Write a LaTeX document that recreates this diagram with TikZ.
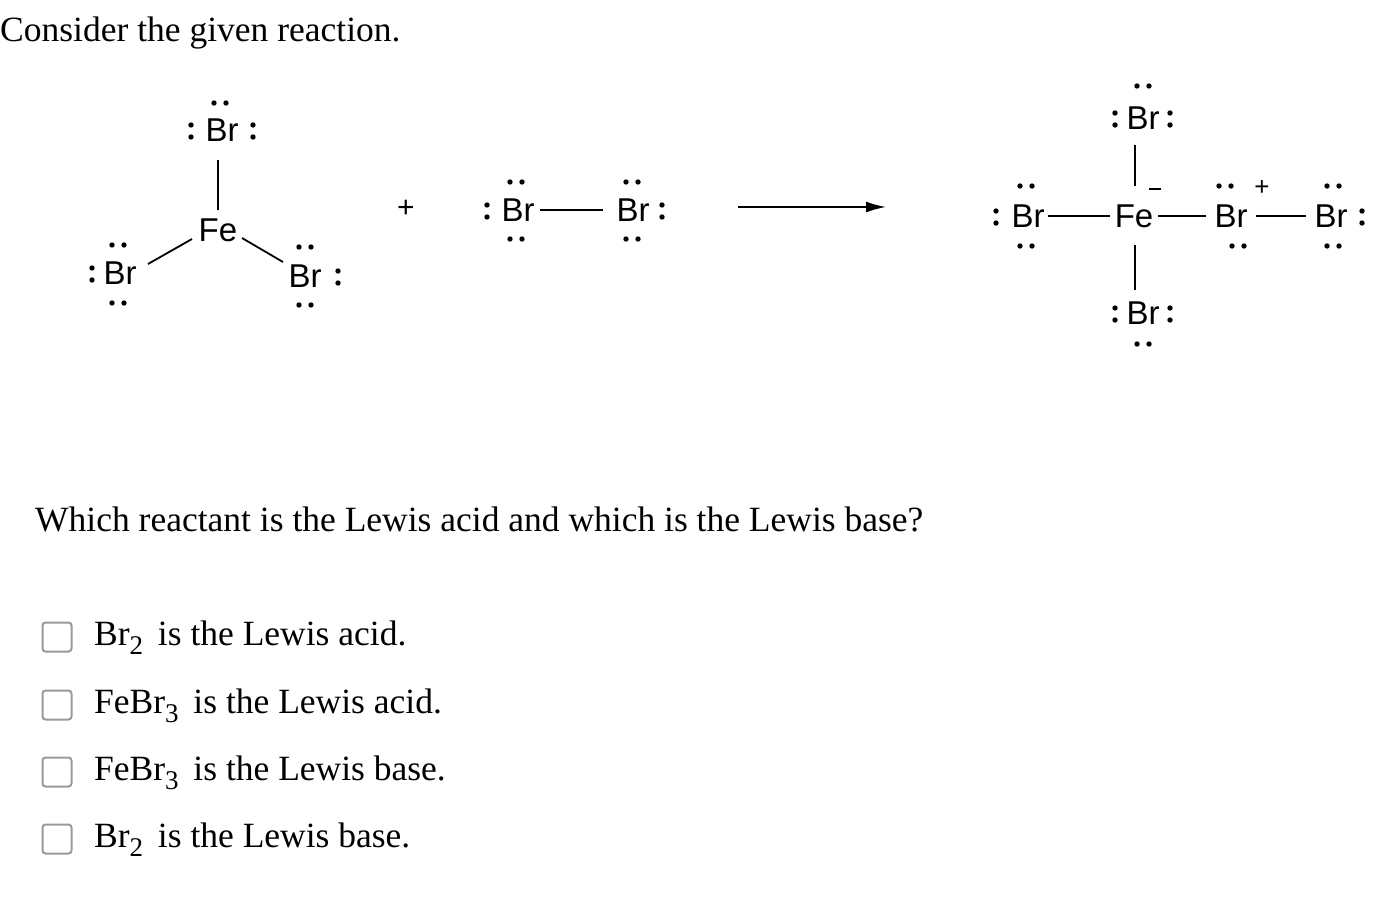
\documentclass[tikz,border=0pt]{standalone}
\usepackage{fontspec}
\usetikzlibrary{arrows.meta}
\setmainfont{Liberation Serif}
\newfontfamily\chemfont{Liberation Sans}
\begin{document}
\begin{tikzpicture}[x=1pt,y=-1pt]
\useasboundingbox (0,0) rectangle (1390,897);
\tikzset{
 txt/.style={font=\fontsize{35.5}{40}\selectfont, anchor=west, inner sep=0},
 atom/.style={font=\chemfont\fontsize{33}{36}\selectfont, inner sep=1pt},
 bond/.style={line width=1.8pt},
 box/.style={draw=gray!80, line width=2pt, rounded corners=3pt, minimum size=29pt, inner sep=0}
}
\newcommand{\dt}[2]{\fill (#1,#2) circle (2.7);}
\newcommand{\hpair}[2]{\dt{#1-6}{#2}\dt{#1+6}{#2}}
\newcommand{\vpair}[2]{\dt{#1}{#2-6}\dt{#1}{#2+6}}
\newcommand{\sub}[1]{\raisebox{-9pt}{\fontsize{27}{30}\selectfont #1}}

\node[txt] (t1) at (0,33) {Consider the given reaction.};

% FeBr3
\node[atom] (fe) at (218,230) {Fe};
\node[atom] (b1) at (222,130) {Br};
\node[atom] (b2) at (120,273) {Br};
\node[atom] (b3) at (305,276) {Br};
\draw[bond] (218,160) -- (218,210);
\draw[bond] (148,264) -- (192,239);
\draw[bond] (242,238) -- (283,262);
\hpair{220}{103}\vpair{191}{131}\vpair{253}{131}
\hpair{118}{245}\vpair{92}{274}\hpair{118}{303}
\hpair{305}{247}\vpair{338}{277}\hpair{305}{305}

\node[font=\chemfont\fontsize{30}{32}\selectfont] (plus) at (406,209) {+};

% Br2
\node[atom] (c1) at (518,210) {Br};
\node[atom] (c2) at (633,210) {Br};
\draw[bond] (540,210) -- (603,210);
\hpair{516}{182}\vpair{487}{211}\hpair{516}{239}
\hpair{632}{182}\vpair{662}{211}\hpair{632}{239}

% arrow
\coordinate (a1) at (738,207);
\coordinate (a2) at (886,207);
\draw[bond,-{Latex[length=20pt,width=11pt]}] (a1) -- (a2);

% product
\node[atom] (pf) at (1134,216) {Fe};
\node[atom] (pt) at (1143,118) {Br};
\node[atom] (pb) at (1143,313) {Br};
\node[atom] (pl) at (1028,216) {Br};
\node[atom] (pm) at (1231,216) {Br};
\node[atom] (pr) at (1331,216) {Br};
\draw[bond] (1135,145) -- (1135,186);
\draw[bond] (1135,245) -- (1135,290);
\draw[bond] (1048,216) -- (1110,216);
\draw[bond] (1158,216) -- (1206,216);
\draw[bond] (1256,216) -- (1306,216);
\draw[line width=1.4pt] (1149,189) -- (1161,189);
\node[font=\chemfont\fontsize{26}{28}\selectfont] (pp) at (1262,188) {+};
\hpair{1143}{86}\vpair{1115}{119}\vpair{1170}{119}
\hpair{1143}{344}\vpair{1115}{314}\vpair{1170}{314}
\hpair{1026}{186}\vpair{996}{217}\hpair{1026}{246}
\hpair{1225}{186}\hpair{1238}{246}
\hpair{1333}{186}\vpair{1362}{217}\hpair{1333}{246}

\node[txt] (q) at (35,519) {Which reactant is the Lewis acid and which is the Lewis base?};

\node[box] (k1) at (57,637) {};
\node[box] (k2) at (57,705) {};
\node[box] (k3) at (57,772) {};
\node[box] (k4) at (57,839) {};
\node[txt] (o1) at (94,638) {Br\sub{2}\, is the Lewis acid.};
\node[txt] (o2) at (94,706) {FeBr\sub{3}\, is the Lewis acid.};
\node[txt] (o3) at (94,773) {FeBr\sub{3}\, is the Lewis base.};
\node[txt] (o4) at (94,840) {Br\sub{2}\, is the Lewis base.};
\end{tikzpicture}
\end{document}
